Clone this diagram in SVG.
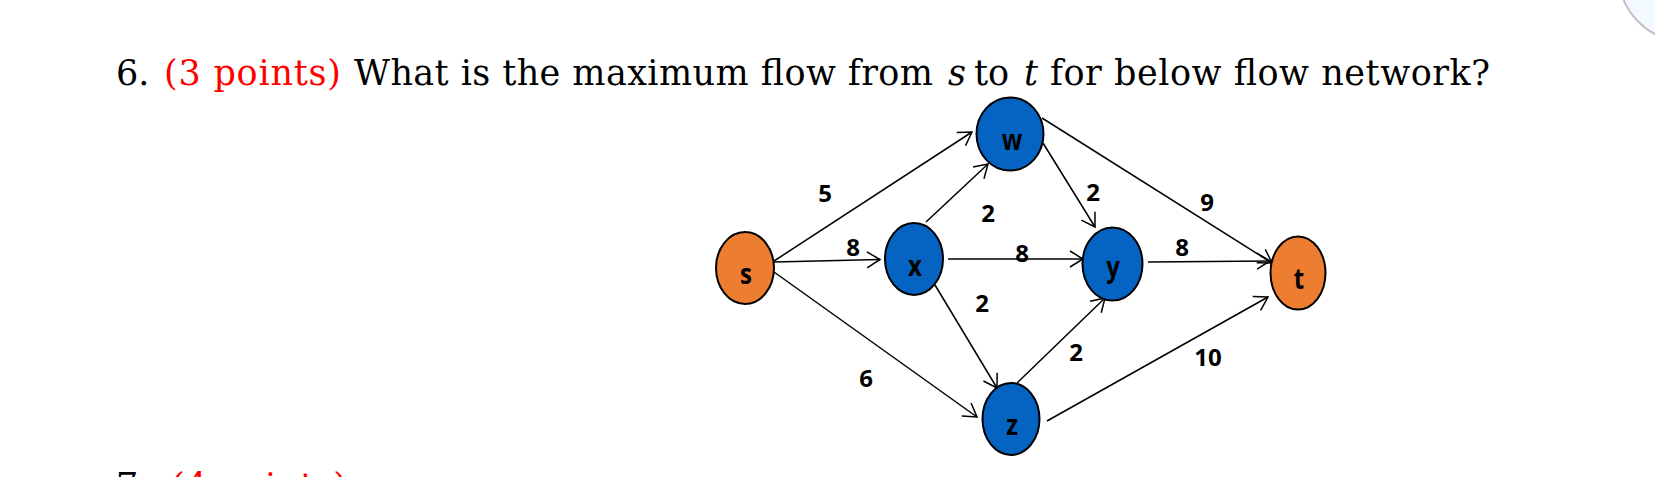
<svg xmlns="http://www.w3.org/2000/svg" width="1655" height="477" viewBox="0 0 1655 477">
<style>
.title{font-family:"DejaVu Serif","Liberation Serif",serif;font-size:35px;fill:#000}
.red{fill:#FF0000}
.it{font-style:italic}
.node{stroke:#000;stroke-width:2}
.src{fill:#ED7D31}
.mid{fill:#0563C1}
.nl{font-family:"Open Sans","Liberation Sans",sans-serif;font-weight:bold;font-size:24px;fill:#000;text-anchor:middle}
.el{font-family:"Open Sans","Liberation Sans",sans-serif;font-weight:bold;font-size:24px;fill:#000;text-anchor:middle}
.edge{stroke:#000;stroke-width:1.5;fill:none;marker-end:url(#arr)}
</style>
<defs>
<marker id="arr" markerUnits="userSpaceOnUse" markerWidth="30" markerHeight="30" refX="0" refY="0" orient="auto" overflow="visible">
<path d="M-13,-8 L0,0 L-13,8" fill="none" stroke="#000" stroke-width="1.5"/>
</marker>
</defs>
<rect width="1655" height="477" fill="#fff"/>
<circle cx="1685" cy="-25" r="66" fill="#F3FAFF" stroke="#C9BCCB" stroke-width="2"/>
<text class="title" y="85"><tspan x="116">6.</tspan><tspan class="red" x="164" textLength="177">(3 points)</tspan><tspan x="354" textLength="579">What is the maximum flow from</tspan><tspan class="it" x="948">s</tspan><tspan x="974">to</tspan><tspan class="it" x="1024">t</tspan><tspan x="1050" textLength="440">for below flow network?</tspan></text>
<text class="title" y="498"><tspan x="116">7.</tspan><tspan class="red" x="171" textLength="176">(4 points)</tspan></text>
<g id="connectors">
<line class="edge" x1="774" y1="261" x2="972" y2="132"/>
<line class="edge" x1="774" y1="262" x2="880" y2="259.5"/>
<line class="edge" x1="774" y1="272" x2="977" y2="417"/>
<line class="edge" x1="926" y1="222" x2="988" y2="164"/>
<line class="edge" x1="948" y1="259" x2="1083" y2="259"/>
<line class="edge" x1="935" y1="285" x2="997" y2="388"/>
<line class="edge" x1="1043" y1="143" x2="1095" y2="227"/>
<line class="edge" x1="1042" y1="118" x2="1272" y2="263"/>
<line class="edge" x1="1148" y1="262" x2="1270" y2="261"/>
<line class="edge" x1="1017" y1="383" x2="1105" y2="298"/>
<line class="edge" x1="1047" y1="421" x2="1268" y2="297"/>
<text class="el" x="825" y="201.5">5</text>
<text class="el" x="853" y="255.5">8</text>
<text class="el" x="866" y="387">6</text>
<text class="el" x="988" y="222">2</text>
<text class="el" x="1022" y="262">8</text>
<text class="el" x="982" y="311.5">2</text>
<text class="el" x="1093" y="200.5">2</text>
<text class="el" x="1207" y="211">9</text>
<text class="el" x="1182" y="255.5">8</text>
<text class="el" x="1076" y="360.5">2</text>
<text class="el" x="1208" y="365.5">10</text>
</g>
<g id="node-s"><ellipse class="node src" cx="745" cy="268" rx="29" ry="36"/><text class="nl" transform="translate(746,283.5) scale(1,1.2)">s</text></g>
<g id="node-w"><ellipse class="node mid" cx="1010" cy="134" rx="33.5" ry="36.5"/><text class="nl" transform="translate(1012,149.5) scale(1,1.2)">w</text></g>
<g id="node-x"><ellipse class="node mid" cx="914" cy="259" rx="29" ry="36"/><text class="nl" transform="translate(915,275.5) scale(1,1.2)">x</text></g>
<g id="node-y"><ellipse class="node mid" cx="1112.5" cy="264" rx="30" ry="36.5"/><text class="nl" transform="translate(1113,276.5) scale(1,1.2)">y</text></g>
<g id="node-z"><ellipse class="node mid" cx="1011" cy="419" rx="28.5" ry="36"/><text class="nl" transform="translate(1012,434.5) scale(1,1.2)">z</text></g>
<g id="node-t"><ellipse class="node src" cx="1298" cy="273" rx="27.5" ry="36.5"/><text class="nl" transform="translate(1299,288.5) scale(1,1.2)">t</text></g>
</svg>
